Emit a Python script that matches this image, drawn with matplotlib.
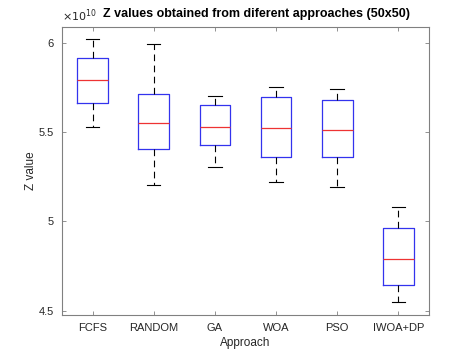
import matplotlib
matplotlib.use("Agg")
import matplotlib.pyplot as plt
from matplotlib.ticker import FuncFormatter

plt.rcParams['font.family'] = ['Liberation Sans', 'DejaVu Sans']

categories = ["FCFS", "RANDOM", "GA", "WOA", "PSO", "IWOA+DP"]
whisker_low = [5.530e10, 5.202e10, 5.303e10, 5.220e10, 5.194e10, 4.546e10]
q1 = [5.664e10, 5.405e10, 5.426e10, 5.360e10, 5.360e10, 4.643e10]
median = [5.790e10, 5.552e10, 5.530e10, 5.521e10, 5.510e10, 4.792e10]
q3 = [5.914e10, 5.713e10, 5.653e10, 5.698e10, 5.678e10, 4.965e10]
whisker_high = [6.019e10, 5.991e10, 5.702e10, 5.752e10, 5.739e10, 5.082e10]
yticks = [4.5e10, 5.0e10, 5.5e10, 6.0e10]

stats = []
for i, c in enumerate(categories):
    stats.append(dict(label=c, whislo=whisker_low[i], q1=q1[i], med=median[i],
                      q3=q3[i], whishi=whisker_high[i], fliers=[]))

fig = plt.figure(figsize=(4.74, 3.55), dpi=100)
ax = fig.add_axes([0.1308, 0.1127, 0.905 - 0.1308, 0.923 - 0.1127])

ax.bxp(stats, positions=range(1, len(categories) + 1), widths=0.5,
       showfliers=False, capwidths=0.22,
       boxprops=dict(color='#3333ee', linewidth=0.9),
       medianprops=dict(color='#ee3333', linewidth=0.9),
       whiskerprops=dict(color='black', linewidth=0.8, linestyle=(0, (6, 4))),
       capprops=dict(color='black', linewidth=0.8))

ax.set_xlim(0.5, 6.5)
ax.set_ylim(4.476e10, 6.086e10)
ax.set_yticks(yticks)
ax.yaxis.set_major_formatter(FuncFormatter(lambda v, p: f"{v/1e10:g}"))
ax.set_xticks(range(1, len(categories) + 1))
ax.set_xticklabels(categories)

gray = '#262626'
for s in ax.spines.values():
    s.set_color('#808080')
    s.set_linewidth(0.8)
ax.tick_params(direction='in', top=True, right=True, length=3, width=0.6,
               color='#808080', labelsize=8, labelcolor=gray, pad=6)

fig.text(256.5 / 474, 1 - 14 / 355, "Z values obtained from diferent approaches (50x50)",
         fontsize=9, fontweight='bold', color='black', ha='center', va='center')
ax.set_xlabel("Approach", fontsize=8.5, color=gray, labelpad=3)
ax.set_ylabel("Z value", fontsize=8.5, color=gray, labelpad=1)
ax.text(0.0, 1.01, r"$\times10^{10}$", transform=ax.transAxes, fontsize=8,
        color=gray, ha='left', va='bottom')

fig.savefig("out.png", dpi=100)
